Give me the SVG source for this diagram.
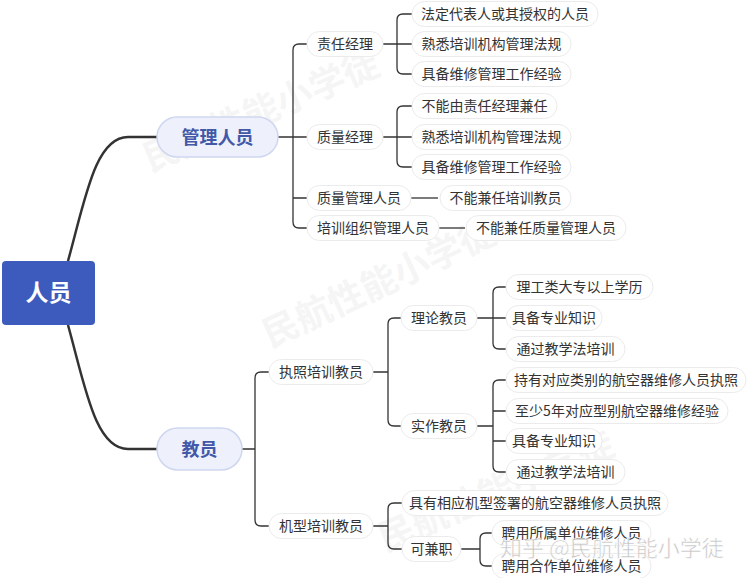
<svg xmlns="http://www.w3.org/2000/svg" width="748" height="578" viewBox="0 0 748 578">
<style>
text{font-family:"Noto Sans CJK SC","Noto Sans",sans-serif;}
.leaf rect{fill:#ffffff;stroke:#ebebeb;stroke-width:1;}
.leaf text{font-size:14px;fill:#333333;text-anchor:middle;}
.l1 rect{fill:#eef1fb;stroke:#cfd6f0;stroke-width:1.5;}
.l1 text{font-size:18px;font-weight:bold;fill:#4458a8;text-anchor:middle;}
.c1{fill:none;stroke:#333333;stroke-width:2.5;}
.c2{fill:none;stroke:#333333;stroke-width:1.3;}
.wm{font-size:36px;font-weight:bold;fill:#000000;opacity:0.035;}
</style>
<rect width="748" height="578" fill="#ffffff"/>
<g id="watermarks">
<text class="wm" transform="translate(150,172) rotate(-23)">民航性能小学徒</text>
<text class="wm" transform="translate(270,348) rotate(-25)">民航性能小学徒</text>
<text class="wm" transform="translate(385,552) rotate(-23)">民航性能小学徒</text>
</g>
<g id="connectors">
<path class="c1" d="M68,261 C85,200 95,137 128,137 H157"/>
<path class="c1" d="M68,325 C85,386 95,449 128,449 H157"/>
<path class="c2" d="M278,137 H307 M307,44 H299 Q293,44 293,50 V222 Q293,228 299,228 H307 M293,198 H307"/>
<path class="c2" d="M383,44 H412 M412,14 H403 Q397,14 397,20 V68 Q397,74 403,74 H412"/>
<path class="c2" d="M383,137 H412 M412,106 H403 Q397,106 397,112 V161 Q397,167 403,167 H412"/>
<path class="c2" d="M411,198 H438"/>
<path class="c2" d="M439,228 H465"/>
<path class="c2" d="M242,449 H255 M269,372 H261 Q255,372 255,378 V520 Q255,526 261,526 H269"/>
<path class="c2" d="M373,372 H388 M401,318 H394 Q388,318 388,324 V420 Q388,426 394,426 H401"/>
<path class="c2" d="M477,318 H506 M506,287 H499 Q493,287 493,293 V343 Q493,349 499,349 H506"/>
<path class="c2" d="M477,426 H493 M506,380 H499 Q493,380 493,386 V466 Q493,472 499,472 H506 M493,411 H506 M493,441 H506"/>
<path class="c2" d="M373,526 H388 M402,503 H394 Q388,503 388,509 V543 Q388,549 394,549 H402"/>
<path class="c2" d="M461,549 H480 M492,533 H486 Q480,533 480,539 V560 Q480,566 486,566 H492"/>
</g>
<g id="root">
<rect x="2" y="261" width="93" height="64" rx="4" fill="#3d5bbd"/>
<text x="48.5" y="301" font-size="23" font-weight="bold" fill="#ffffff" text-anchor="middle">人员</text>
</g>
<g id="n-guanli" class="l1"><rect x="157" y="117" width="121" height="40" rx="20"/><text x="217.5" y="143.5">管理人员</text></g>
<g id="n-jiaoyuan" class="l1"><rect x="157" y="428" width="85" height="42" rx="21"/><text x="199.5" y="455.5">教员</text></g>

<g id="n-zeren" class="leaf"><rect x="307" y="31.5" width="76" height="25" rx="12.5"/><text x="345" y="49">责任经理</text></g>
<g id="n-zhiliang" class="leaf"><rect x="307" y="124.5" width="76" height="25" rx="12.5"/><text x="345" y="142">质量经理</text></g>
<g id="n-zlgl" class="leaf"><rect x="307" y="185.5" width="104" height="25" rx="12.5"/><text x="359" y="203">质量管理人员</text></g>
<g id="n-pxzz" class="leaf"><rect x="307" y="215.5" width="132" height="25" rx="12.5"/><text x="373" y="233">培训组织管理人员</text></g>

<g id="n-zr1" class="leaf"><rect x="412" y="1.5" width="186" height="25" rx="12.5"/><text x="505" y="19">法定代表人或其授权的人员</text></g>
<g id="n-zr2" class="leaf"><rect x="412" y="31.5" width="159" height="25" rx="12.5"/><text x="491.5" y="49">熟悉培训机构管理法规</text></g>
<g id="n-zr3" class="leaf"><rect x="412" y="61.5" width="159" height="25" rx="12.5"/><text x="491.5" y="79">具备维修管理工作经验</text></g>
<g id="n-zl1" class="leaf"><rect x="412" y="93.5" width="145" height="25" rx="12.5"/><text x="484.5" y="111">不能由责任经理兼任</text></g>
<g id="n-zl2" class="leaf"><rect x="412" y="124.5" width="159" height="25" rx="12.5"/><text x="491.5" y="142">熟悉培训机构管理法规</text></g>
<g id="n-zl3" class="leaf"><rect x="412" y="154.5" width="159" height="25" rx="12.5"/><text x="491.5" y="172">具备维修管理工作经验</text></g>
<g id="n-zlgl1" class="leaf"><rect x="440" y="185.5" width="131" height="25" rx="12.5"/><text x="505.5" y="203">不能兼任培训教员</text></g>
<g id="n-pxzz1" class="leaf"><rect x="466" y="215.5" width="160" height="25" rx="12.5"/><text x="546" y="233">不能兼任质量管理人员</text></g>

<g id="n-zhizhao" class="leaf"><rect x="269" y="359.5" width="104" height="25" rx="12.5"/><text x="321" y="377">执照培训教员</text></g>
<g id="n-jixing" class="leaf"><rect x="269" y="513.5" width="104" height="25" rx="12.5"/><text x="321" y="531">机型培训教员</text></g>
<g id="n-lilun" class="leaf"><rect x="401" y="305.5" width="76" height="25" rx="12.5"/><text x="439" y="323">理论教员</text></g>
<g id="n-shizuo" class="leaf"><rect x="401" y="413.5" width="76" height="25" rx="12.5"/><text x="439" y="431">实作教员</text></g>

<g id="n-ll1" class="leaf"><rect x="506" y="274.5" width="147" height="25" rx="12.5"/><text x="579.5" y="292">理工类大专以上学历</text></g>
<g id="n-ll2" class="leaf"><rect x="506" y="305.5" width="96" height="25" rx="12.5"/><text x="554" y="323">具备专业知识</text></g>
<g id="n-ll3" class="leaf"><rect x="506" y="336.5" width="119" height="25" rx="12.5"/><text x="565.5" y="354">通过教学法培训</text></g>
<g id="n-sz1" class="leaf"><rect x="506" y="367.5" width="240" height="25" rx="12.5"/><text x="626" y="385">持有对应类别的航空器维修人员执照</text></g>
<g id="n-sz2" class="leaf"><rect x="506" y="398.5" width="222" height="25" rx="12.5"/><text x="617" y="416">至少5年对应型别航空器维修经验</text></g>
<g id="n-sz3" class="leaf"><rect x="506" y="428.5" width="96" height="25" rx="12.5"/><text x="554" y="446">具备专业知识</text></g>
<g id="n-sz4" class="leaf"><rect x="506" y="459.5" width="119" height="25" rx="12.5"/><text x="565.5" y="477">通过教学法培训</text></g>

<g id="n-jx1" class="leaf"><rect x="402" y="490.5" width="266" height="25" rx="12.5"/><text x="535" y="508">具有相应机型签署的航空器维修人员执照</text></g>
<g id="n-jianzhi" class="leaf"><rect x="402" y="536.5" width="59" height="25" rx="12.5"/><text x="431.5" y="554">可兼职</text></g>
<g id="n-jz1" class="leaf"><rect x="492" y="520.5" width="159" height="25" rx="12.5"/><text x="571.5" y="538">聘用所属单位维修人员</text></g>
<g id="n-jz2" class="leaf"><rect x="492" y="553.5" width="159" height="25" rx="12.5"/><text x="571.5" y="571">聘用合作单位维修人员</text></g>

<text x="500" y="556" font-size="22" fill="#b8b8b8" opacity="0.85" stroke="#ffffff" stroke-width="0.6">知乎 @民航性能小学徒</text>
</svg>
